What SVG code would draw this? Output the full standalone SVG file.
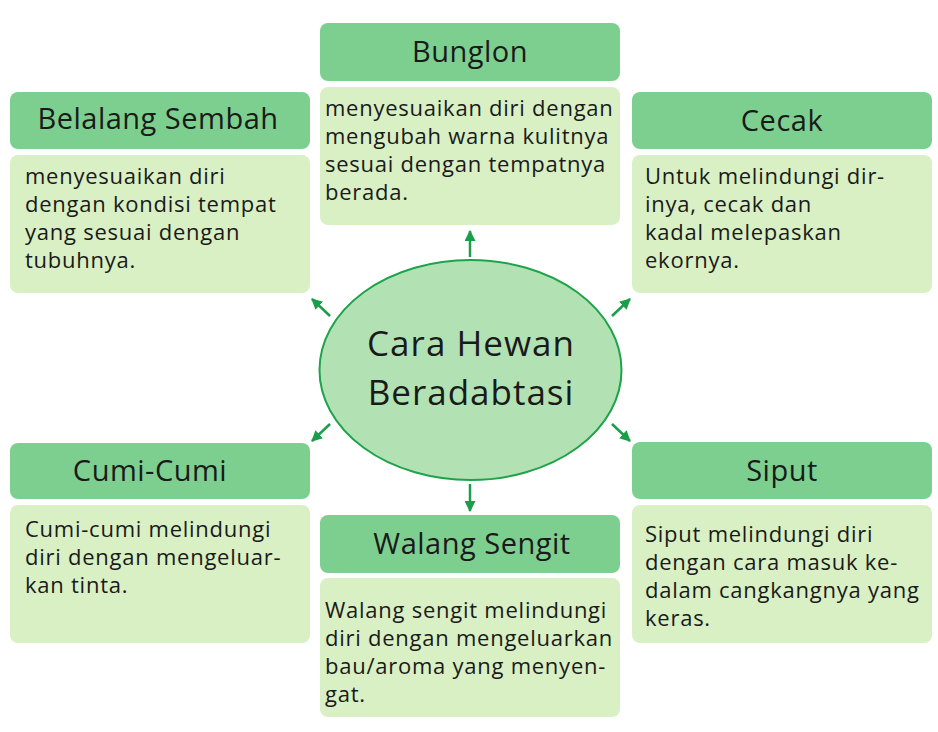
<svg xmlns="http://www.w3.org/2000/svg" width="938" height="732" viewBox="0 0 938 732">
<defs>
<marker id="ah" viewBox="0 0 10 10" refX="9" refY="5" markerWidth="11" markerHeight="11" markerUnits="userSpaceOnUse" orient="auto">
<path d="M0,0 L10,5 L0,10 Z" fill="#1a9e4a"/>
</marker>
<style>
.hd{fill:#7dcf8f}
.bd{fill:#d9f0c5}
.ht{font-family:"Open Sans","Noto Sans",sans-serif;font-size:29px;letter-spacing:0.5px;fill:#1a1a1a;text-anchor:middle}
.bt{font-family:"Open Sans","Noto Sans",sans-serif;font-size:22px;letter-spacing:0.75px;fill:#1a1a1a}
.ct{font-family:"Open Sans","Noto Sans",sans-serif;font-size:35px;letter-spacing:1px;fill:#1a1a1a;text-anchor:middle}
.cn{stroke:#1a9e4a;stroke-width:2.5;fill:none;marker-end:url(#ah)}
</style>
</defs>
<rect width="938" height="732" fill="#ffffff"/>
<g id="connectors">
<line class="cn" x1="470" y1="257" x2="470" y2="231"/>
<line class="cn" x1="470" y1="484" x2="470" y2="511"/>
<line class="cn" x1="330" y1="316" x2="312" y2="299"/>
<line class="cn" x1="612" y1="316" x2="630" y2="299"/>
<line class="cn" x1="330" y1="424" x2="312" y2="441"/>
<line class="cn" x1="612" y1="424" x2="630" y2="441"/>
</g>
<g id="center">
<ellipse cx="470.5" cy="370" rx="151" ry="110" fill="#b2e2b4" stroke="#1ea34a" stroke-width="2"/>
<text class="ct" x="471" y="356">Cara Hewan</text>
<text class="ct" x="471" y="405">Beradabtasi</text>
</g>
<g id="belalang">
<rect class="hd" x="10" y="92" width="300" height="57" rx="8"/>
<text class="ht" x="158" y="129">Belalang Sembah</text>
<rect class="bd" x="10" y="155" width="300" height="138" rx="8"/>
<text class="bt" x="25" y="184">menyesuaikan diri</text>
<text class="bt" x="25" y="212">dengan kondisi tempat</text>
<text class="bt" x="25" y="240">yang sesuai dengan</text>
<text class="bt" x="25" y="268">tubuhnya.</text>
</g>
<g id="bunglon">
<rect class="hd" x="320" y="23" width="300" height="58" rx="8"/>
<text class="ht" x="470" y="62">Bunglon</text>
<rect class="bd" x="320" y="87" width="300" height="138" rx="8"/>
<text class="bt" x="325" y="116">menyesuaikan diri dengan</text>
<text class="bt" x="325" y="144">mengubah warna kulitnya</text>
<text class="bt" x="325" y="172">sesuai dengan tempatnya</text>
<text class="bt" x="325" y="200">berada.</text>
</g>
<g id="cecak">
<rect class="hd" x="632" y="92" width="300" height="57" rx="8"/>
<text class="ht" x="782" y="131">Cecak</text>
<rect class="bd" x="632" y="155" width="300" height="138" rx="8"/>
<text class="bt" x="645" y="184">Untuk melindungi dir-</text>
<text class="bt" x="645" y="212">inya, cecak dan</text>
<text class="bt" x="645" y="240">kadal melepaskan</text>
<text class="bt" x="645" y="268">ekornya.</text>
</g>
<g id="cumi">
<rect class="hd" x="10" y="443" width="300" height="56" rx="8"/>
<text class="ht" x="150" y="481">Cumi-Cumi</text>
<rect class="bd" x="10" y="505" width="300" height="138" rx="8"/>
<text class="bt" x="25" y="537">Cumi-cumi melindungi</text>
<text class="bt" x="25" y="565">diri dengan mengeluar-</text>
<text class="bt" x="25" y="593">kan tinta.</text>
</g>
<g id="walang">
<rect class="hd" x="320" y="515" width="300" height="58" rx="8"/>
<text class="ht" x="472" y="554">Walang Sengit</text>
<rect class="bd" x="320" y="578" width="300" height="139" rx="8"/>
<text class="bt" x="325" y="618">Walang sengit melindungi</text>
<text class="bt" x="325" y="646">diri dengan mengeluarkan</text>
<text class="bt" x="325" y="674">bau/aroma yang menyen-</text>
<text class="bt" x="325" y="702">gat.</text>
</g>
<g id="siput">
<rect class="hd" x="632" y="442" width="300" height="57" rx="8"/>
<text class="ht" x="782" y="481">Siput</text>
<rect class="bd" x="632" y="505" width="300" height="138" rx="8"/>
<text class="bt" x="645" y="542">Siput melindungi diri</text>
<text class="bt" x="645" y="570">dengan cara masuk ke-</text>
<text class="bt" x="645" y="598">dalam cangkangnya yang</text>
<text class="bt" x="645" y="626">keras.</text>
</g>
</svg>
